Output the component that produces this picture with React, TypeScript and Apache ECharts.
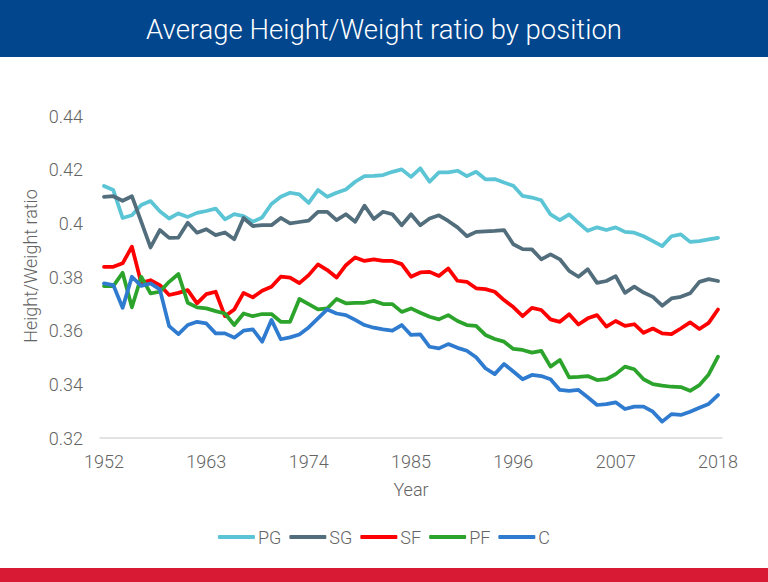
import React, { useEffect, useRef } from "react";
import * as echarts from "echarts";

// Seasons 1952–2018
const years = [
  1952, 1953, 1954, 1955, 1956, 1957, 1958, 1959, 1960, 1961, 1962, 1963, 1964, 1965, 1966, 1967,
  1968, 1969, 1970, 1971, 1972, 1973, 1974, 1975, 1976, 1977, 1978, 1979, 1980, 1981, 1982, 1983,
  1984, 1985, 1986, 1987, 1988, 1989, 1990, 1991, 1992, 1993, 1994, 1995, 1996, 1997, 1998, 1999,
  2000, 2001, 2002, 2003, 2004, 2005, 2006, 2007, 2008, 2009, 2010, 2011, 2012, 2013, 2014, 2015,
  2016, 2017, 2018,
];

const yearTicks = [1952, 1963, 1974, 1985, 1996, 2007, 2018];

// Average height/weight ratio per position and season
const pg = [
  0.4139, 0.4124, 0.402, 0.403, 0.4068, 0.4083, 0.4045, 0.4018, 0.4037, 0.4024, 0.4039, 0.4046,
  0.4055, 0.4015, 0.4034, 0.4027, 0.4006, 0.4022, 0.4072, 0.4099, 0.4114, 0.4108, 0.4076, 0.4124,
  0.4099, 0.4114, 0.4126, 0.4155, 0.4176, 0.4177, 0.418, 0.4192, 0.4201, 0.4173, 0.4205, 0.4155,
  0.419, 0.419, 0.4196, 0.4176, 0.4192, 0.4164, 0.4165, 0.4152, 0.414, 0.4102, 0.4096, 0.4086,
  0.4033, 0.4012, 0.4033, 0.4002, 0.3972, 0.3985, 0.3975, 0.3985, 0.3968, 0.3965, 0.3952, 0.3934,
  0.3915, 0.3952, 0.3959, 0.3931, 0.3934, 0.394, 0.3946,
];
const sg = [
  0.4099, 0.4101, 0.4084, 0.4101, 0.4006, 0.391, 0.3975, 0.3946, 0.3947, 0.4002, 0.3965, 0.3978,
  0.3956, 0.3966, 0.3941, 0.402, 0.399, 0.3993, 0.3993, 0.402, 0.4, 0.4005, 0.401, 0.4043, 0.4043,
  0.4012, 0.4034, 0.4006, 0.4066, 0.4016, 0.4043, 0.4034, 0.3993, 0.4034, 0.3993, 0.4018, 0.403,
  0.4009, 0.3985, 0.3952, 0.3968, 0.397, 0.3972, 0.3975, 0.3922, 0.3904, 0.3903, 0.3866, 0.3884,
  0.3866, 0.3823, 0.3801, 0.3829, 0.3778, 0.3785, 0.3803, 0.3741, 0.3764, 0.3742, 0.3726, 0.3693,
  0.372, 0.3726, 0.3739, 0.3782, 0.3792, 0.3785,
];
const sf = [
  0.3838, 0.3838, 0.3851, 0.3913, 0.3778, 0.3788, 0.377, 0.3733, 0.3741, 0.3751, 0.3702, 0.3736,
  0.3745, 0.3654, 0.3679, 0.3741, 0.3724, 0.3749, 0.3764, 0.3801, 0.3798, 0.3777, 0.3807, 0.3847,
  0.3826, 0.3798, 0.3844, 0.3873, 0.386, 0.3866, 0.386, 0.386, 0.3848, 0.3801, 0.3817, 0.3819,
  0.3804, 0.3832, 0.3786, 0.3782, 0.3758, 0.3755, 0.3745, 0.3714, 0.3688, 0.3654, 0.3685, 0.3677,
  0.3642, 0.3633, 0.3661, 0.3623, 0.3646, 0.3658, 0.3615, 0.3636, 0.3618, 0.3624, 0.3592, 0.3608,
  0.359, 0.3587, 0.3608, 0.3631, 0.3606, 0.3629, 0.3679,
];
const pf = [
  0.3766, 0.3766, 0.3816, 0.3687, 0.3801, 0.3739, 0.3745, 0.3782, 0.3811, 0.3704, 0.3687, 0.3683,
  0.3673, 0.3664, 0.3621, 0.3664, 0.3654, 0.3662, 0.3662, 0.3633, 0.3633, 0.3718, 0.3699, 0.3679,
  0.3683, 0.3718, 0.3702, 0.3704, 0.3704, 0.3711, 0.3699, 0.3699, 0.367, 0.3683, 0.3667, 0.3652,
  0.3642, 0.3658, 0.3636, 0.3621, 0.3618, 0.3584, 0.3569, 0.3559, 0.3532, 0.3528, 0.3518, 0.3525,
  0.3466, 0.3491, 0.3426, 0.3428, 0.3431, 0.3416, 0.3419, 0.3438, 0.3466, 0.3456, 0.3419, 0.3401,
  0.3395, 0.3391, 0.339, 0.3376, 0.3397, 0.3437, 0.3503,
];
const c = [
  0.3776, 0.377, 0.3685, 0.3801, 0.3767, 0.3776, 0.3754, 0.3617, 0.3587, 0.3621, 0.3633, 0.3627,
  0.359, 0.359, 0.3574, 0.36, 0.3605, 0.3559, 0.364, 0.3568, 0.3575, 0.3586, 0.3612, 0.3646,
  0.3679, 0.3664, 0.3658, 0.364, 0.3621, 0.3611, 0.3605, 0.36, 0.3621, 0.3584, 0.3586, 0.354,
  0.3534, 0.355, 0.3536, 0.3525, 0.3501, 0.346, 0.3438, 0.3476, 0.3448, 0.3419, 0.3435, 0.3431,
  0.3419, 0.3379, 0.3376, 0.3379, 0.3352, 0.3323, 0.3326, 0.3333, 0.3308, 0.3317, 0.3317, 0.3298,
  0.3261, 0.3289, 0.3286, 0.3298, 0.3313, 0.3327, 0.336,
];

const seriesDefs = [
  { name: "PG", values: pg, color: "#5bc4d5" },
  { name: "SG", values: sg, color: "#526d7b" },
  { name: "SF", values: sf, color: "#ff0000" },
  { name: "PF", values: pf, color: "#2ca42c" },
  { name: "C", values: c, color: "#2f7bcf" },
];

const FONT = "Roboto, 'Noto Sans', sans-serif";
const TEXT_GREY = "#646464";

export default function App() {
  const ref = useRef<HTMLDivElement>(null);

  useEffect(() => {
    document.body.style.margin = "0";
    const chart = echarts.init(ref.current!, null, { renderer: "svg" });

    chart.setOption({
      animation: false,
      backgroundColor: "#ffffff",
      textStyle: { fontFamily: FONT },
      grid: { left: 100, right: 46, top: 116, bottom: 144, containLabel: false },
      xAxis: {
        type: "value",
        min: 1951.57,
        max: 2018.43,
        name: "Year",
        nameLocation: "middle",
        nameGap: 42,
        nameTextStyle: { color: TEXT_GREY, fontSize: 18, fontWeight: 300, fontFamily: FONT },
        axisLine: { show: true, lineStyle: { color: "#d9d9d9", width: 1.5 } },
        axisTick: { show: false },
        splitLine: { show: false },
        axisLabel: {
          customValues: yearTicks,
          color: TEXT_GREY,
          fontSize: 18,
          fontWeight: 300,
          fontFamily: FONT,
          margin: 14,
          formatter: (v: number) => String(v),
        },
      },
      yAxis: {
        type: "value",
        min: 0.32,
        max: 0.44,
        interval: 0.02,
        axisLine: { show: false },
        axisTick: { show: false },
        splitLine: { show: false },
        axisLabel: {
          color: TEXT_GREY,
          fontSize: 18,
          fontWeight: 300,
          fontFamily: FONT,
          margin: 17,
          formatter: (v: number) => String(parseFloat(v.toFixed(2))),
        },
      },
      legend: {
        left: "center",
        top: 523,
        icon: "roundRect",
        itemWidth: 37,
        itemHeight: 4,
        itemGap: 8,
        textStyle: { color: TEXT_GREY, fontSize: 18, fontWeight: 300, fontFamily: FONT, padding: [0, 0, 0, -2] },
        data: seriesDefs.map((s) => s.name),
      },
      graphic: [
        {
          type: "rect",
          shape: { x: 0, y: 0, width: 768, height: 57 },
          style: { fill: "#02468e" },
          silent: true,
        },
        {
          type: "text",
          x: 384,
          y: 29,
          style: {
            text: "Average Height/Weight ratio by position",
            fill: "#ffffff",
            fontSize: 27.5,
            fontWeight: 300,
            fontFamily: FONT,
            align: "center",
            verticalAlign: "middle",
          },
          silent: true,
        },
        {
          type: "text",
          x: 30,
          y: 266,
          rotation: Math.PI / 2,
          style: {
            text: "Height/Weight ratio",
            fill: TEXT_GREY,
            fontSize: 18,
            fontWeight: 300,
            fontFamily: FONT,
            align: "center",
            verticalAlign: "middle",
          },
          silent: true,
        },
        {
          type: "rect",
          shape: { x: 0, y: 568, width: 768, height: 14 },
          style: { fill: "#d91a35" },
          silent: true,
        },
      ],
      series: seriesDefs.map((s) => ({
        name: s.name,
        type: "line",
        data: years.map((y, i) => [y, s.values[i]]),
        showSymbol: false,
        symbol: "none",
        color: s.color,
        itemStyle: { color: s.color },
        lineStyle: { color: s.color, width: 3.75, join: "round", cap: "round" },
      })),
    });

    return () => chart.dispose();
  }, []);

  return <div ref={ref} style={{ width: 768, height: 582 }} />;
}
